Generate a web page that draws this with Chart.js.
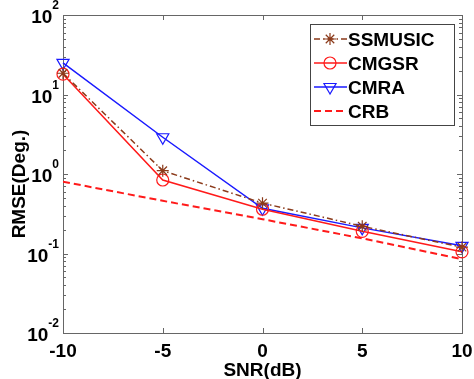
<!DOCTYPE html>
<html>
<head>
<meta charset="utf-8">
<script src="https://cdn.jsdelivr.net/npm/chart.js@4.4.0/dist/chart.umd.min.js"></script>
<style>
  html, body { margin:0; padding:0; background:#fff; }
  #wrap { width:474px; height:379px; }
</style>
</head>
<body>
<div id="wrap"><canvas id="c" width="474" height="379"></canvas></div>
<script>
const snr = [-10, -5, 0, 5, 10];
const ssmusic = [18.5, 1.1, 0.43, 0.22, 0.12];
const cmgsr   = [18, 0.84, 0.36, 0.19, 0.105];
const cmra    = [25, 2.9, 0.37, 0.21, 0.125];
const crb     = [0.8, 0.46, 0.27, 0.155, 0.085];
const yTicks  = [-2, -1, 0, 1, 2]; // exponents
const xTicks  = [-10, -5, 0, 5, 10];

const FONT = 'Liberation Sans, Arial, sans-serif';
const pts = xs => snr.map((x,i)=>({x, y: xs[i]}));

// MATLAB style box, inward ticks, tick labels with superscripts, legend
const axesPlugin = {
  id:'axesPlugin',
  beforeDatasetsDraw(chart){
    const {ctx, chartArea:a, scales} = chart;
    const xs = scales.x, ys = scales.y;
    ctx.save();
    ctx.strokeStyle = '#666';
    ctx.lineWidth = 1;
    ctx.strokeRect(a.left+0.5, a.top+0.5, a.right-a.left, a.bottom-a.top);
    ctx.beginPath();
    for(const t of xTicks){
      const px = Math.round(xs.getPixelForValue(t))+0.5;
      ctx.moveTo(px, a.bottom); ctx.lineTo(px, a.bottom-5);
      ctx.moveTo(px, a.top); ctx.lineTo(px, a.top+5);
    }
    for(let e=-2;e<2;e++){
      for(let m=1;m<10;m++){
        const v = m*Math.pow(10,e);
        const py = Math.round(ys.getPixelForValue(v))+0.5;
        const len = m===1 ? 5 : 3;
        ctx.moveTo(a.left, py); ctx.lineTo(a.left+len, py);
        ctx.moveTo(a.right, py); ctx.lineTo(a.right-len, py);
      }
    }
    ctx.stroke();
    ctx.restore();
  },
  afterDraw(chart){
    const {ctx, chartArea:a, scales} = chart;
    const xs = scales.x, ys = scales.y;
    ctx.save();
    // y tick labels
    ctx.fillStyle = '#000';
    ctx.textBaseline = 'alphabetic';
    for(const e of yTicks){
      const py = ys.getPixelForValue(Math.pow(10,e));
      const exp = String(e);
      ctx.font = 'bold 12px '+FONT;
      const ew = ctx.measureText(exp).width;
      ctx.textAlign = 'left';
      const right = a.left - 4;
      ctx.fillText(exp, right-ew, py-6);
      ctx.font = 'bold 19px '+FONT;
      ctx.textAlign = 'right';
      ctx.fillText('10', right-ew, py+8);
    }
    // x tick labels
    ctx.font = 'bold 19px '+FONT;
    ctx.textAlign = 'center';
    for(const t of xTicks){
      ctx.fillText(String(t), xs.getPixelForValue(t), a.bottom+24);
    }
    // axis titles
    ctx.font = 'bold 19px '+FONT;
    ctx.fillText('SNR(dB)', (a.left+a.right)/2, a.bottom+43);
    ctx.save();
    ctx.translate(19, (a.top+a.bottom)/2 + 10);
    ctx.rotate(-Math.PI/2);
    ctx.fillText('RMSE(Deg.)', 0, 6);
    ctx.restore();

    // legend
    const lx = 310, ly = 24, lw = 144, lh = 101;
    ctx.fillStyle = '#fff';
    ctx.fillRect(lx, ly, lw, lh);
    ctx.strokeStyle = '#444';
    ctx.lineWidth = 1;
    ctx.strokeRect(lx+0.5, ly+0.5, lw, lh);
    chart.data.datasets.forEach((ds, i) => {
      const cy = ly + 15 + i*24;
      ctx.strokeStyle = ds.borderColor;
      ctx.lineWidth = ds.borderWidth;
      ctx.setLineDash(ds.borderDash || []);
      ctx.beginPath(); ctx.moveTo(lx+4, cy); ctx.lineTo(lx+37, cy); ctx.stroke();
      ctx.setLineDash([]);
      if(ds.pointStyle && ds.pointRadius>0){
        ctx.fillStyle = 'rgba(0,0,0,0)';
        ctx.lineWidth = 1.2;
        Chart.helpers.drawPoint(ctx, {pointStyle: ds.pointStyle, radius: ds.pointRadius,
          rotation: ds.pointRotation||0, borderWidth: 1.2}, lx+20, cy);
      }
      ctx.fillStyle = '#000';
      ctx.font = 'bold 19px '+FONT;
      ctx.textAlign = 'left';
      ctx.fillText(ds.label, lx+38, cy+7);
    });
    ctx.restore();
  }
};

new Chart(document.getElementById('c'), {
  type:'line',
  data:{ datasets:[
    { label:'SSMUSIC', data:pts(ssmusic), borderColor:'#8b3a1a', borderWidth:1.5, borderDash:[6,3,1.5,3],
      pointStyle:'star', pointRadius:6, pointBorderColor:'#8b3a1a', pointBackgroundColor:'transparent', pointBorderWidth:1.2, clip:false },
    { label:'CMGSR', data:pts(cmgsr), borderColor:'#ff1a1a', borderWidth:1.5,
      pointStyle:'circle', pointRadius:6, pointBorderColor:'#ff1a1a', pointBackgroundColor:'transparent', pointBorderWidth:1.2, clip:false },
    { label:'CMRA', data:pts(cmra), borderColor:'#1a1aff', borderWidth:1.5,
      pointStyle:'triangle', pointRotation:180, pointRadius:7, pointBorderColor:'#1a1aff', pointBackgroundColor:'transparent', pointBorderWidth:1.2, clip:false },
    { label:'CRB', data:pts(crb), borderColor:'#ff1a1a', borderWidth:2, borderDash:[7,4],
      pointRadius:0 }
  ]},
  options:{
    responsive:false, animation:false,
    layout:{ padding:{ top:15, right:12, left:0, bottom:0 } },
    plugins:{ legend:{display:false}, tooltip:{enabled:false} },
    scales:{
      x:{ type:'linear', min:-10, max:10,
          grid:{display:false}, border:{display:false},
          ticks:{display:false},
          afterFit(s){ s.height = 46; } },
      y:{ type:'logarithmic', min:0.01, max:100,
          grid:{display:false}, border:{display:false},
          ticks:{display:false},
          afterFit(s){ s.width = 63; } }
    }
  },
  plugins:[axesPlugin]
});
</script>
</body>
</html>
